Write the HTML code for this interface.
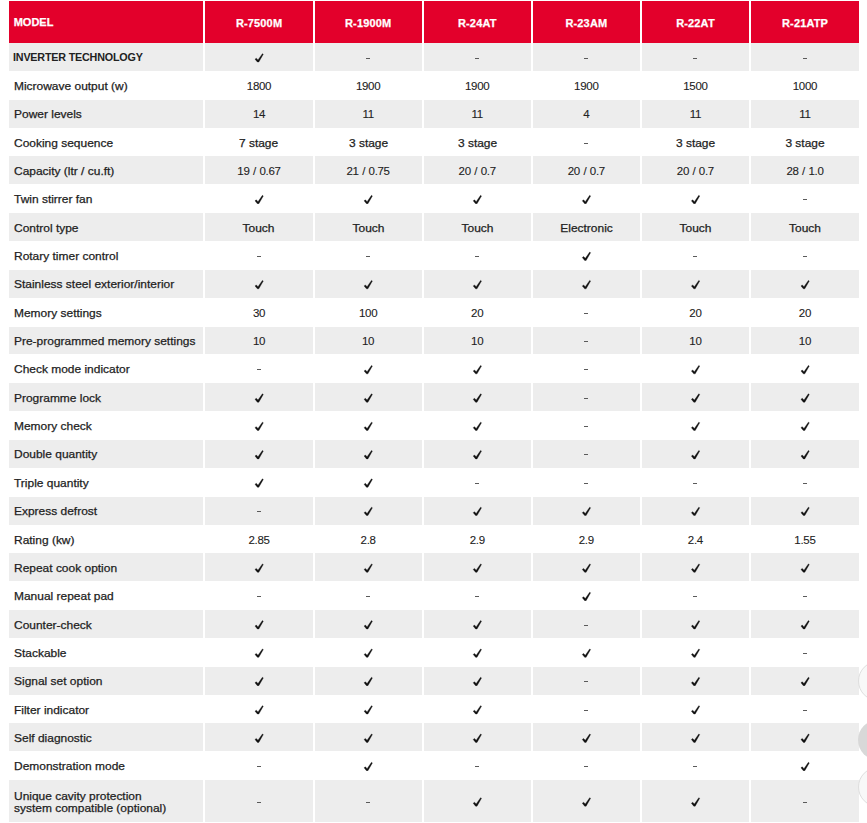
<!DOCTYPE html><html><head><meta charset="utf-8"><style>
html,body{margin:0;padding:0;background:#fff;width:867px;height:823px;overflow:hidden;position:relative}
.c{position:absolute;font-family:"Liberation Sans",sans-serif;color:#222;font-size:12px}
.h{background:#e3002b;color:#fff;font-weight:bold;font-size:11px}
.g{background:#ededed}
.t{position:absolute;white-space:nowrap;-webkit-text-stroke:0.25px currentColor}
.ck{position:absolute}
.lb{font-size:11.4px;transform:scaleX(1.05);transform-origin:0 0}
.vb{font-size:11.4px;transform:scaleX(1.05);transform-origin:50% 0}
.ds{position:absolute;height:1px;width:4px;background:#5a5a5a}
</style></head><body>

<div class="c h" style="left:9px;top:1.3px;width:194.45px;height:41.300000000000004px"><span class="t" style="left:4.7px;top:14.5px">MODEL</span></div>
<div class="c h" style="left:205.45px;top:1.3px;width:107.09999999999997px;height:41.300000000000004px;text-align:center"><span class="t" style="left:0;right:0;top:16px;letter-spacing:0.15px;text-indent:0.15px">R-7500M</span></div>
<div class="c h" style="left:314.54999999999995px;top:1.3px;width:107.10000000000002px;height:41.300000000000004px;text-align:center"><span class="t" style="left:0;right:0;top:16px;letter-spacing:0.15px;text-indent:0.15px">R-1900M</span></div>
<div class="c h" style="left:423.65px;top:1.3px;width:107.10000000000002px;height:41.300000000000004px;text-align:center"><span class="t" style="left:0;right:0;top:16px;letter-spacing:0.15px;text-indent:0.15px">R-24AT</span></div>
<div class="c h" style="left:532.75px;top:1.3px;width:107.09999999999991px;height:41.300000000000004px;text-align:center"><span class="t" style="left:0;right:0;top:16px;letter-spacing:0.15px;text-indent:0.15px">R-23AM</span></div>
<div class="c h" style="left:641.8499999999999px;top:1.3px;width:107.10000000000014px;height:41.300000000000004px;text-align:center"><span class="t" style="left:0;right:0;top:16px;letter-spacing:0.15px;text-indent:0.15px">R-22AT</span></div>
<div class="c h" style="left:750.95px;top:1.3px;width:108.04999999999995px;height:41.300000000000004px;text-align:center"><span class="t" style="left:0;right:0;top:16px;letter-spacing:0.15px;text-indent:0.15px">R-21ATP</span></div>
<div class="c g" style="left:9.00px;top:43.08px;width:194.45px;height:27.90px"><span class="t" style="left:3.7px;top:8.5px;font-weight:bold;letter-spacing:-0.2px;font-size:11.5px;top:8px;transform:scaleX(0.935);transform-origin:0 0;-webkit-text-stroke:0;">INVERTER TECHNOLOGY</span></div>
<div class="c g" style="left:205.45px;top:43.08px;width:107.10px;height:27.90px"></div>
<div class="c g" style="left:314.55px;top:43.08px;width:107.10px;height:27.90px"></div>
<div class="c g" style="left:423.65px;top:43.08px;width:107.10px;height:27.90px"></div>
<div class="c g" style="left:532.75px;top:43.08px;width:107.10px;height:27.90px"></div>
<div class="c g" style="left:641.85px;top:43.08px;width:107.10px;height:27.90px"></div>
<div class="c g" style="left:750.95px;top:43.08px;width:108.05px;height:27.90px"></div>
<div class="c" style="left:9.00px;top:71.43px;width:194.45px;height:27.90px"><span class="t lb" style="left:4.5px;top:8.5px;">Microwave output (w)</span></div>
<div class="c" style="left:205.45px;top:71.43px;width:107.10px;height:27.90px"><span class="t" style="left:0;right:0;text-align:center;top:8.5px;font-size:11.5px;letter-spacing:-0.3px;word-spacing:0.6px;-webkit-text-stroke:0.1px currentColor;">1800</span></div>
<div class="c" style="left:314.55px;top:71.43px;width:107.10px;height:27.90px"><span class="t" style="left:0;right:0;text-align:center;top:8.5px;font-size:11.5px;letter-spacing:-0.3px;word-spacing:0.6px;-webkit-text-stroke:0.1px currentColor;">1900</span></div>
<div class="c" style="left:423.65px;top:71.43px;width:107.10px;height:27.90px"><span class="t" style="left:0;right:0;text-align:center;top:8.5px;font-size:11.5px;letter-spacing:-0.3px;word-spacing:0.6px;-webkit-text-stroke:0.1px currentColor;">1900</span></div>
<div class="c" style="left:532.75px;top:71.43px;width:107.10px;height:27.90px"><span class="t" style="left:0;right:0;text-align:center;top:8.5px;font-size:11.5px;letter-spacing:-0.3px;word-spacing:0.6px;-webkit-text-stroke:0.1px currentColor;">1900</span></div>
<div class="c" style="left:641.85px;top:71.43px;width:107.10px;height:27.90px"><span class="t" style="left:0;right:0;text-align:center;top:8.5px;font-size:11.5px;letter-spacing:-0.3px;word-spacing:0.6px;-webkit-text-stroke:0.1px currentColor;">1500</span></div>
<div class="c" style="left:750.95px;top:71.43px;width:108.05px;height:27.90px"><span class="t" style="left:0;right:0;text-align:center;top:8.5px;font-size:11.5px;letter-spacing:-0.3px;word-spacing:0.6px;-webkit-text-stroke:0.1px currentColor;">1000</span></div>
<div class="c g" style="left:9.00px;top:99.78px;width:194.45px;height:27.90px"><span class="t lb" style="left:4.5px;top:8.5px;">Power levels</span></div>
<div class="c g" style="left:205.45px;top:99.78px;width:107.10px;height:27.90px"><span class="t" style="left:0;right:0;text-align:center;top:8.5px;font-size:11.5px;letter-spacing:-0.3px;word-spacing:0.6px;-webkit-text-stroke:0.1px currentColor;">14</span></div>
<div class="c g" style="left:314.55px;top:99.78px;width:107.10px;height:27.90px"><span class="t" style="left:0;right:0;text-align:center;top:8.5px;font-size:11.5px;letter-spacing:-0.3px;word-spacing:0.6px;-webkit-text-stroke:0.1px currentColor;">11</span></div>
<div class="c g" style="left:423.65px;top:99.78px;width:107.10px;height:27.90px"><span class="t" style="left:0;right:0;text-align:center;top:8.5px;font-size:11.5px;letter-spacing:-0.3px;word-spacing:0.6px;-webkit-text-stroke:0.1px currentColor;">11</span></div>
<div class="c g" style="left:532.75px;top:99.78px;width:107.10px;height:27.90px"><span class="t" style="left:0;right:0;text-align:center;top:8.5px;font-size:11.5px;letter-spacing:-0.3px;word-spacing:0.6px;-webkit-text-stroke:0.1px currentColor;">4</span></div>
<div class="c g" style="left:641.85px;top:99.78px;width:107.10px;height:27.90px"><span class="t" style="left:0;right:0;text-align:center;top:8.5px;font-size:11.5px;letter-spacing:-0.3px;word-spacing:0.6px;-webkit-text-stroke:0.1px currentColor;">11</span></div>
<div class="c g" style="left:750.95px;top:99.78px;width:108.05px;height:27.90px"><span class="t" style="left:0;right:0;text-align:center;top:8.5px;font-size:11.5px;letter-spacing:-0.3px;word-spacing:0.6px;-webkit-text-stroke:0.1px currentColor;">11</span></div>
<div class="c" style="left:9.00px;top:128.12px;width:194.45px;height:27.90px"><span class="t lb" style="left:4.5px;top:8.5px;">Cooking sequence</span></div>
<div class="c" style="left:205.45px;top:128.12px;width:107.10px;height:27.90px"><span class="t vb" style="left:0;right:0;text-align:center;top:8.5px;">7 stage</span></div>
<div class="c" style="left:314.55px;top:128.12px;width:107.10px;height:27.90px"><span class="t vb" style="left:0;right:0;text-align:center;top:8.5px;">3 stage</span></div>
<div class="c" style="left:423.65px;top:128.12px;width:107.10px;height:27.90px"><span class="t vb" style="left:0;right:0;text-align:center;top:8.5px;">3 stage</span></div>
<div class="c" style="left:532.75px;top:128.12px;width:107.10px;height:27.90px"></div>
<div class="c" style="left:641.85px;top:128.12px;width:107.10px;height:27.90px"><span class="t vb" style="left:0;right:0;text-align:center;top:8.5px;">3 stage</span></div>
<div class="c" style="left:750.95px;top:128.12px;width:108.05px;height:27.90px"><span class="t vb" style="left:0;right:0;text-align:center;top:8.5px;">3 stage</span></div>
<div class="c g" style="left:9.00px;top:156.47px;width:194.45px;height:27.90px"><span class="t lb" style="left:4.5px;top:8.5px;">Capacity (ltr / cu.ft)</span></div>
<div class="c g" style="left:205.45px;top:156.47px;width:107.10px;height:27.90px"><span class="t" style="left:0;right:0;text-align:center;top:8.5px;font-size:11.5px;letter-spacing:-0.3px;word-spacing:0.6px;-webkit-text-stroke:0.1px currentColor;">19 / 0.67</span></div>
<div class="c g" style="left:314.55px;top:156.47px;width:107.10px;height:27.90px"><span class="t" style="left:0;right:0;text-align:center;top:8.5px;font-size:11.5px;letter-spacing:-0.3px;word-spacing:0.6px;-webkit-text-stroke:0.1px currentColor;">21 / 0.75</span></div>
<div class="c g" style="left:423.65px;top:156.47px;width:107.10px;height:27.90px"><span class="t" style="left:0;right:0;text-align:center;top:8.5px;font-size:11.5px;letter-spacing:-0.3px;word-spacing:0.6px;-webkit-text-stroke:0.1px currentColor;">20 / 0.7</span></div>
<div class="c g" style="left:532.75px;top:156.47px;width:107.10px;height:27.90px"><span class="t" style="left:0;right:0;text-align:center;top:8.5px;font-size:11.5px;letter-spacing:-0.3px;word-spacing:0.6px;-webkit-text-stroke:0.1px currentColor;">20 / 0.7</span></div>
<div class="c g" style="left:641.85px;top:156.47px;width:107.10px;height:27.90px"><span class="t" style="left:0;right:0;text-align:center;top:8.5px;font-size:11.5px;letter-spacing:-0.3px;word-spacing:0.6px;-webkit-text-stroke:0.1px currentColor;">20 / 0.7</span></div>
<div class="c g" style="left:750.95px;top:156.47px;width:108.05px;height:27.90px"><span class="t" style="left:0;right:0;text-align:center;top:8.5px;font-size:11.5px;letter-spacing:-0.3px;word-spacing:0.6px;-webkit-text-stroke:0.1px currentColor;">28 / 1.0</span></div>
<div class="c" style="left:9.00px;top:184.82px;width:194.45px;height:27.90px"><span class="t lb" style="left:4.5px;top:8.5px;">Twin stirrer fan</span></div>
<div class="c" style="left:205.45px;top:184.82px;width:107.10px;height:27.90px"></div>
<div class="c" style="left:314.55px;top:184.82px;width:107.10px;height:27.90px"></div>
<div class="c" style="left:423.65px;top:184.82px;width:107.10px;height:27.90px"></div>
<div class="c" style="left:532.75px;top:184.82px;width:107.10px;height:27.90px"></div>
<div class="c" style="left:641.85px;top:184.82px;width:107.10px;height:27.90px"></div>
<div class="c" style="left:750.95px;top:184.82px;width:108.05px;height:27.90px"></div>
<div class="c g" style="left:9.00px;top:213.17px;width:194.45px;height:27.90px"><span class="t lb" style="left:4.5px;top:8.5px;">Control type</span></div>
<div class="c g" style="left:205.45px;top:213.17px;width:107.10px;height:27.90px"><span class="t vb" style="left:0;right:0;text-align:center;top:8.5px;">Touch</span></div>
<div class="c g" style="left:314.55px;top:213.17px;width:107.10px;height:27.90px"><span class="t vb" style="left:0;right:0;text-align:center;top:8.5px;">Touch</span></div>
<div class="c g" style="left:423.65px;top:213.17px;width:107.10px;height:27.90px"><span class="t vb" style="left:0;right:0;text-align:center;top:8.5px;">Touch</span></div>
<div class="c g" style="left:532.75px;top:213.17px;width:107.10px;height:27.90px"><span class="t vb" style="left:0;right:0;text-align:center;top:8.5px;">Electronic</span></div>
<div class="c g" style="left:641.85px;top:213.17px;width:107.10px;height:27.90px"><span class="t vb" style="left:0;right:0;text-align:center;top:8.5px;">Touch</span></div>
<div class="c g" style="left:750.95px;top:213.17px;width:108.05px;height:27.90px"><span class="t vb" style="left:0;right:0;text-align:center;top:8.5px;">Touch</span></div>
<div class="c" style="left:9.00px;top:241.52px;width:194.45px;height:27.90px"><span class="t lb" style="left:4.5px;top:8.5px;">Rotary timer control</span></div>
<div class="c" style="left:205.45px;top:241.52px;width:107.10px;height:27.90px"></div>
<div class="c" style="left:314.55px;top:241.52px;width:107.10px;height:27.90px"></div>
<div class="c" style="left:423.65px;top:241.52px;width:107.10px;height:27.90px"></div>
<div class="c" style="left:532.75px;top:241.52px;width:107.10px;height:27.90px"></div>
<div class="c" style="left:641.85px;top:241.52px;width:107.10px;height:27.90px"></div>
<div class="c" style="left:750.95px;top:241.52px;width:108.05px;height:27.90px"></div>
<div class="c g" style="left:9.00px;top:269.86px;width:194.45px;height:27.90px"><span class="t lb" style="left:4.5px;top:8.5px;">Stainless steel exterior/interior</span></div>
<div class="c g" style="left:205.45px;top:269.86px;width:107.10px;height:27.90px"></div>
<div class="c g" style="left:314.55px;top:269.86px;width:107.10px;height:27.90px"></div>
<div class="c g" style="left:423.65px;top:269.86px;width:107.10px;height:27.90px"></div>
<div class="c g" style="left:532.75px;top:269.86px;width:107.10px;height:27.90px"></div>
<div class="c g" style="left:641.85px;top:269.86px;width:107.10px;height:27.90px"></div>
<div class="c g" style="left:750.95px;top:269.86px;width:108.05px;height:27.90px"></div>
<div class="c" style="left:9.00px;top:298.21px;width:194.45px;height:27.90px"><span class="t lb" style="left:4.5px;top:8.5px;">Memory settings</span></div>
<div class="c" style="left:205.45px;top:298.21px;width:107.10px;height:27.90px"><span class="t" style="left:0;right:0;text-align:center;top:8.5px;font-size:11.5px;letter-spacing:-0.3px;word-spacing:0.6px;-webkit-text-stroke:0.1px currentColor;">30</span></div>
<div class="c" style="left:314.55px;top:298.21px;width:107.10px;height:27.90px"><span class="t" style="left:0;right:0;text-align:center;top:8.5px;font-size:11.5px;letter-spacing:-0.3px;word-spacing:0.6px;-webkit-text-stroke:0.1px currentColor;">100</span></div>
<div class="c" style="left:423.65px;top:298.21px;width:107.10px;height:27.90px"><span class="t" style="left:0;right:0;text-align:center;top:8.5px;font-size:11.5px;letter-spacing:-0.3px;word-spacing:0.6px;-webkit-text-stroke:0.1px currentColor;">20</span></div>
<div class="c" style="left:532.75px;top:298.21px;width:107.10px;height:27.90px"></div>
<div class="c" style="left:641.85px;top:298.21px;width:107.10px;height:27.90px"><span class="t" style="left:0;right:0;text-align:center;top:8.5px;font-size:11.5px;letter-spacing:-0.3px;word-spacing:0.6px;-webkit-text-stroke:0.1px currentColor;">20</span></div>
<div class="c" style="left:750.95px;top:298.21px;width:108.05px;height:27.90px"><span class="t" style="left:0;right:0;text-align:center;top:8.5px;font-size:11.5px;letter-spacing:-0.3px;word-spacing:0.6px;-webkit-text-stroke:0.1px currentColor;">20</span></div>
<div class="c g" style="left:9.00px;top:326.56px;width:194.45px;height:27.90px"><span class="t lb" style="left:4.5px;top:8.5px;">Pre-programmed memory settings</span></div>
<div class="c g" style="left:205.45px;top:326.56px;width:107.10px;height:27.90px"><span class="t" style="left:0;right:0;text-align:center;top:8.5px;font-size:11.5px;letter-spacing:-0.3px;word-spacing:0.6px;-webkit-text-stroke:0.1px currentColor;">10</span></div>
<div class="c g" style="left:314.55px;top:326.56px;width:107.10px;height:27.90px"><span class="t" style="left:0;right:0;text-align:center;top:8.5px;font-size:11.5px;letter-spacing:-0.3px;word-spacing:0.6px;-webkit-text-stroke:0.1px currentColor;">10</span></div>
<div class="c g" style="left:423.65px;top:326.56px;width:107.10px;height:27.90px"><span class="t" style="left:0;right:0;text-align:center;top:8.5px;font-size:11.5px;letter-spacing:-0.3px;word-spacing:0.6px;-webkit-text-stroke:0.1px currentColor;">10</span></div>
<div class="c g" style="left:532.75px;top:326.56px;width:107.10px;height:27.90px"></div>
<div class="c g" style="left:641.85px;top:326.56px;width:107.10px;height:27.90px"><span class="t" style="left:0;right:0;text-align:center;top:8.5px;font-size:11.5px;letter-spacing:-0.3px;word-spacing:0.6px;-webkit-text-stroke:0.1px currentColor;">10</span></div>
<div class="c g" style="left:750.95px;top:326.56px;width:108.05px;height:27.90px"><span class="t" style="left:0;right:0;text-align:center;top:8.5px;font-size:11.5px;letter-spacing:-0.3px;word-spacing:0.6px;-webkit-text-stroke:0.1px currentColor;">10</span></div>
<div class="c" style="left:9.00px;top:354.91px;width:194.45px;height:27.90px"><span class="t lb" style="left:4.5px;top:8.5px;">Check mode indicator</span></div>
<div class="c" style="left:205.45px;top:354.91px;width:107.10px;height:27.90px"></div>
<div class="c" style="left:314.55px;top:354.91px;width:107.10px;height:27.90px"></div>
<div class="c" style="left:423.65px;top:354.91px;width:107.10px;height:27.90px"></div>
<div class="c" style="left:532.75px;top:354.91px;width:107.10px;height:27.90px"></div>
<div class="c" style="left:641.85px;top:354.91px;width:107.10px;height:27.90px"></div>
<div class="c" style="left:750.95px;top:354.91px;width:108.05px;height:27.90px"></div>
<div class="c g" style="left:9.00px;top:383.26px;width:194.45px;height:27.90px"><span class="t lb" style="left:4.5px;top:8.5px;">Programme lock</span></div>
<div class="c g" style="left:205.45px;top:383.26px;width:107.10px;height:27.90px"></div>
<div class="c g" style="left:314.55px;top:383.26px;width:107.10px;height:27.90px"></div>
<div class="c g" style="left:423.65px;top:383.26px;width:107.10px;height:27.90px"></div>
<div class="c g" style="left:532.75px;top:383.26px;width:107.10px;height:27.90px"></div>
<div class="c g" style="left:641.85px;top:383.26px;width:107.10px;height:27.90px"></div>
<div class="c g" style="left:750.95px;top:383.26px;width:108.05px;height:27.90px"></div>
<div class="c" style="left:9.00px;top:411.60px;width:194.45px;height:27.90px"><span class="t lb" style="left:4.5px;top:8.5px;">Memory check</span></div>
<div class="c" style="left:205.45px;top:411.60px;width:107.10px;height:27.90px"></div>
<div class="c" style="left:314.55px;top:411.60px;width:107.10px;height:27.90px"></div>
<div class="c" style="left:423.65px;top:411.60px;width:107.10px;height:27.90px"></div>
<div class="c" style="left:532.75px;top:411.60px;width:107.10px;height:27.90px"></div>
<div class="c" style="left:641.85px;top:411.60px;width:107.10px;height:27.90px"></div>
<div class="c" style="left:750.95px;top:411.60px;width:108.05px;height:27.90px"></div>
<div class="c g" style="left:9.00px;top:439.95px;width:194.45px;height:27.90px"><span class="t lb" style="left:4.5px;top:8.5px;">Double quantity</span></div>
<div class="c g" style="left:205.45px;top:439.95px;width:107.10px;height:27.90px"></div>
<div class="c g" style="left:314.55px;top:439.95px;width:107.10px;height:27.90px"></div>
<div class="c g" style="left:423.65px;top:439.95px;width:107.10px;height:27.90px"></div>
<div class="c g" style="left:532.75px;top:439.95px;width:107.10px;height:27.90px"></div>
<div class="c g" style="left:641.85px;top:439.95px;width:107.10px;height:27.90px"></div>
<div class="c g" style="left:750.95px;top:439.95px;width:108.05px;height:27.90px"></div>
<div class="c" style="left:9.00px;top:468.30px;width:194.45px;height:27.90px"><span class="t lb" style="left:4.5px;top:8.5px;">Triple quantity</span></div>
<div class="c" style="left:205.45px;top:468.30px;width:107.10px;height:27.90px"></div>
<div class="c" style="left:314.55px;top:468.30px;width:107.10px;height:27.90px"></div>
<div class="c" style="left:423.65px;top:468.30px;width:107.10px;height:27.90px"></div>
<div class="c" style="left:532.75px;top:468.30px;width:107.10px;height:27.90px"></div>
<div class="c" style="left:641.85px;top:468.30px;width:107.10px;height:27.90px"></div>
<div class="c" style="left:750.95px;top:468.30px;width:108.05px;height:27.90px"></div>
<div class="c g" style="left:9.00px;top:496.65px;width:194.45px;height:27.90px"><span class="t lb" style="left:4.5px;top:8.5px;">Express defrost</span></div>
<div class="c g" style="left:205.45px;top:496.65px;width:107.10px;height:27.90px"></div>
<div class="c g" style="left:314.55px;top:496.65px;width:107.10px;height:27.90px"></div>
<div class="c g" style="left:423.65px;top:496.65px;width:107.10px;height:27.90px"></div>
<div class="c g" style="left:532.75px;top:496.65px;width:107.10px;height:27.90px"></div>
<div class="c g" style="left:641.85px;top:496.65px;width:107.10px;height:27.90px"></div>
<div class="c g" style="left:750.95px;top:496.65px;width:108.05px;height:27.90px"></div>
<div class="c" style="left:9.00px;top:525.00px;width:194.45px;height:27.90px"><span class="t lb" style="left:4.5px;top:8.5px;">Rating (kw)</span></div>
<div class="c" style="left:205.45px;top:525.00px;width:107.10px;height:27.90px"><span class="t" style="left:0;right:0;text-align:center;top:8.5px;font-size:11.5px;letter-spacing:-0.3px;word-spacing:0.6px;-webkit-text-stroke:0.1px currentColor;">2.85</span></div>
<div class="c" style="left:314.55px;top:525.00px;width:107.10px;height:27.90px"><span class="t" style="left:0;right:0;text-align:center;top:8.5px;font-size:11.5px;letter-spacing:-0.3px;word-spacing:0.6px;-webkit-text-stroke:0.1px currentColor;">2.8</span></div>
<div class="c" style="left:423.65px;top:525.00px;width:107.10px;height:27.90px"><span class="t" style="left:0;right:0;text-align:center;top:8.5px;font-size:11.5px;letter-spacing:-0.3px;word-spacing:0.6px;-webkit-text-stroke:0.1px currentColor;">2.9</span></div>
<div class="c" style="left:532.75px;top:525.00px;width:107.10px;height:27.90px"><span class="t" style="left:0;right:0;text-align:center;top:8.5px;font-size:11.5px;letter-spacing:-0.3px;word-spacing:0.6px;-webkit-text-stroke:0.1px currentColor;">2.9</span></div>
<div class="c" style="left:641.85px;top:525.00px;width:107.10px;height:27.90px"><span class="t" style="left:0;right:0;text-align:center;top:8.5px;font-size:11.5px;letter-spacing:-0.3px;word-spacing:0.6px;-webkit-text-stroke:0.1px currentColor;">2.4</span></div>
<div class="c" style="left:750.95px;top:525.00px;width:108.05px;height:27.90px"><span class="t" style="left:0;right:0;text-align:center;top:8.5px;font-size:11.5px;letter-spacing:-0.3px;word-spacing:0.6px;-webkit-text-stroke:0.1px currentColor;">1.55</span></div>
<div class="c g" style="left:9.00px;top:553.34px;width:194.45px;height:27.90px"><span class="t lb" style="left:4.5px;top:8.5px;">Repeat cook option</span></div>
<div class="c g" style="left:205.45px;top:553.34px;width:107.10px;height:27.90px"></div>
<div class="c g" style="left:314.55px;top:553.34px;width:107.10px;height:27.90px"></div>
<div class="c g" style="left:423.65px;top:553.34px;width:107.10px;height:27.90px"></div>
<div class="c g" style="left:532.75px;top:553.34px;width:107.10px;height:27.90px"></div>
<div class="c g" style="left:641.85px;top:553.34px;width:107.10px;height:27.90px"></div>
<div class="c g" style="left:750.95px;top:553.34px;width:108.05px;height:27.90px"></div>
<div class="c" style="left:9.00px;top:581.69px;width:194.45px;height:27.90px"><span class="t lb" style="left:4.5px;top:8.5px;">Manual repeat pad</span></div>
<div class="c" style="left:205.45px;top:581.69px;width:107.10px;height:27.90px"></div>
<div class="c" style="left:314.55px;top:581.69px;width:107.10px;height:27.90px"></div>
<div class="c" style="left:423.65px;top:581.69px;width:107.10px;height:27.90px"></div>
<div class="c" style="left:532.75px;top:581.69px;width:107.10px;height:27.90px"></div>
<div class="c" style="left:641.85px;top:581.69px;width:107.10px;height:27.90px"></div>
<div class="c" style="left:750.95px;top:581.69px;width:108.05px;height:27.90px"></div>
<div class="c g" style="left:9.00px;top:610.04px;width:194.45px;height:27.90px"><span class="t lb" style="left:4.5px;top:8.5px;">Counter-check</span></div>
<div class="c g" style="left:205.45px;top:610.04px;width:107.10px;height:27.90px"></div>
<div class="c g" style="left:314.55px;top:610.04px;width:107.10px;height:27.90px"></div>
<div class="c g" style="left:423.65px;top:610.04px;width:107.10px;height:27.90px"></div>
<div class="c g" style="left:532.75px;top:610.04px;width:107.10px;height:27.90px"></div>
<div class="c g" style="left:641.85px;top:610.04px;width:107.10px;height:27.90px"></div>
<div class="c g" style="left:750.95px;top:610.04px;width:108.05px;height:27.90px"></div>
<div class="c" style="left:9.00px;top:638.39px;width:194.45px;height:27.90px"><span class="t lb" style="left:4.5px;top:8.5px;">Stackable</span></div>
<div class="c" style="left:205.45px;top:638.39px;width:107.10px;height:27.90px"></div>
<div class="c" style="left:314.55px;top:638.39px;width:107.10px;height:27.90px"></div>
<div class="c" style="left:423.65px;top:638.39px;width:107.10px;height:27.90px"></div>
<div class="c" style="left:532.75px;top:638.39px;width:107.10px;height:27.90px"></div>
<div class="c" style="left:641.85px;top:638.39px;width:107.10px;height:27.90px"></div>
<div class="c" style="left:750.95px;top:638.39px;width:108.05px;height:27.90px"></div>
<div class="c g" style="left:9.00px;top:666.74px;width:194.45px;height:27.90px"><span class="t lb" style="left:4.5px;top:8.5px;">Signal set option</span></div>
<div class="c g" style="left:205.45px;top:666.74px;width:107.10px;height:27.90px"></div>
<div class="c g" style="left:314.55px;top:666.74px;width:107.10px;height:27.90px"></div>
<div class="c g" style="left:423.65px;top:666.74px;width:107.10px;height:27.90px"></div>
<div class="c g" style="left:532.75px;top:666.74px;width:107.10px;height:27.90px"></div>
<div class="c g" style="left:641.85px;top:666.74px;width:107.10px;height:27.90px"></div>
<div class="c g" style="left:750.95px;top:666.74px;width:108.05px;height:27.90px"></div>
<div class="c" style="left:9.00px;top:695.08px;width:194.45px;height:27.90px"><span class="t lb" style="left:4.5px;top:8.5px;">Filter indicator</span></div>
<div class="c" style="left:205.45px;top:695.08px;width:107.10px;height:27.90px"></div>
<div class="c" style="left:314.55px;top:695.08px;width:107.10px;height:27.90px"></div>
<div class="c" style="left:423.65px;top:695.08px;width:107.10px;height:27.90px"></div>
<div class="c" style="left:532.75px;top:695.08px;width:107.10px;height:27.90px"></div>
<div class="c" style="left:641.85px;top:695.08px;width:107.10px;height:27.90px"></div>
<div class="c" style="left:750.95px;top:695.08px;width:108.05px;height:27.90px"></div>
<div class="c g" style="left:9.00px;top:723.43px;width:194.45px;height:27.90px"><span class="t lb" style="left:4.5px;top:8.5px;">Self diagnostic</span></div>
<div class="c g" style="left:205.45px;top:723.43px;width:107.10px;height:27.90px"></div>
<div class="c g" style="left:314.55px;top:723.43px;width:107.10px;height:27.90px"></div>
<div class="c g" style="left:423.65px;top:723.43px;width:107.10px;height:27.90px"></div>
<div class="c g" style="left:532.75px;top:723.43px;width:107.10px;height:27.90px"></div>
<div class="c g" style="left:641.85px;top:723.43px;width:107.10px;height:27.90px"></div>
<div class="c g" style="left:750.95px;top:723.43px;width:108.05px;height:27.90px"></div>
<div class="c" style="left:9.00px;top:751.78px;width:194.45px;height:27.90px"><span class="t lb" style="left:4.5px;top:8.5px;">Demonstration mode</span></div>
<div class="c" style="left:205.45px;top:751.78px;width:107.10px;height:27.90px"></div>
<div class="c" style="left:314.55px;top:751.78px;width:107.10px;height:27.90px"></div>
<div class="c" style="left:423.65px;top:751.78px;width:107.10px;height:27.90px"></div>
<div class="c" style="left:532.75px;top:751.78px;width:107.10px;height:27.90px"></div>
<div class="c" style="left:641.85px;top:751.78px;width:107.10px;height:27.90px"></div>
<div class="c" style="left:750.95px;top:751.78px;width:108.05px;height:27.90px"></div>
<div class="c g" style="left:9.00px;top:780.13px;width:194.45px;height:42.00px"><span class="t lb" style="left:4.5px;top:11.2px;line-height:11.6px">Unique cavity protection<br>system compatible (optional)</span></div>
<div class="c g" style="left:205.45px;top:780.13px;width:107.10px;height:42.00px"></div>
<div class="c g" style="left:314.55px;top:780.13px;width:107.10px;height:42.00px"></div>
<div class="c g" style="left:423.65px;top:780.13px;width:107.10px;height:42.00px"></div>
<div class="c g" style="left:532.75px;top:780.13px;width:107.10px;height:42.00px"></div>
<div class="c g" style="left:641.85px;top:780.13px;width:107.10px;height:42.00px"></div>
<div class="c g" style="left:750.95px;top:780.13px;width:108.05px;height:42.00px"></div>
<svg class="ck" style="left:253px;top:51px" width="12" height="12" viewBox="0 0 12 12"><path transform="translate(1.00 1.23)" d="M1.0 6.9 L2.3 5.9 L4.0 7.7 L8.4 1.4 L9.3 2.0 L4.8 9.8 L3.4 9.8 Z" fill="#111" stroke="#111" stroke-width="0.35" stroke-linejoin="round"/></svg>
<div class="ds" style="left:366px;top:58px"></div>
<div class="ds" style="left:475px;top:58px"></div>
<div class="ds" style="left:584px;top:58px"></div>
<div class="ds" style="left:693px;top:58px"></div>
<div class="ds" style="left:803px;top:58px"></div>
<div class="ds" style="left:584px;top:143px"></div>
<svg class="ck" style="left:253px;top:192px" width="12" height="12" viewBox="0 0 12 12"><path transform="translate(1.00 1.97)" d="M1.0 6.9 L2.3 5.9 L4.0 7.7 L8.4 1.4 L9.3 2.0 L4.8 9.8 L3.4 9.8 Z" fill="#111" stroke="#111" stroke-width="0.35" stroke-linejoin="round"/></svg>
<svg class="ck" style="left:362px;top:192px" width="12" height="12" viewBox="0 0 12 12"><path transform="translate(1.10 1.97)" d="M1.0 6.9 L2.3 5.9 L4.0 7.7 L8.4 1.4 L9.3 2.0 L4.8 9.8 L3.4 9.8 Z" fill="#111" stroke="#111" stroke-width="0.35" stroke-linejoin="round"/></svg>
<svg class="ck" style="left:471px;top:192px" width="12" height="12" viewBox="0 0 12 12"><path transform="translate(1.20 1.97)" d="M1.0 6.9 L2.3 5.9 L4.0 7.7 L8.4 1.4 L9.3 2.0 L4.8 9.8 L3.4 9.8 Z" fill="#111" stroke="#111" stroke-width="0.35" stroke-linejoin="round"/></svg>
<svg class="ck" style="left:580px;top:192px" width="12" height="12" viewBox="0 0 12 12"><path transform="translate(1.30 1.97)" d="M1.0 6.9 L2.3 5.9 L4.0 7.7 L8.4 1.4 L9.3 2.0 L4.8 9.8 L3.4 9.8 Z" fill="#111" stroke="#111" stroke-width="0.35" stroke-linejoin="round"/></svg>
<svg class="ck" style="left:689px;top:192px" width="12" height="12" viewBox="0 0 12 12"><path transform="translate(1.40 1.97)" d="M1.0 6.9 L2.3 5.9 L4.0 7.7 L8.4 1.4 L9.3 2.0 L4.8 9.8 L3.4 9.8 Z" fill="#111" stroke="#111" stroke-width="0.35" stroke-linejoin="round"/></svg>
<div class="ds" style="left:803px;top:199px"></div>
<div class="ds" style="left:257px;top:256px"></div>
<div class="ds" style="left:366px;top:256px"></div>
<div class="ds" style="left:475px;top:256px"></div>
<svg class="ck" style="left:580px;top:249px" width="12" height="12" viewBox="0 0 12 12"><path transform="translate(1.30 1.67)" d="M1.0 6.9 L2.3 5.9 L4.0 7.7 L8.4 1.4 L9.3 2.0 L4.8 9.8 L3.4 9.8 Z" fill="#111" stroke="#111" stroke-width="0.35" stroke-linejoin="round"/></svg>
<div class="ds" style="left:693px;top:256px"></div>
<div class="ds" style="left:803px;top:256px"></div>
<svg class="ck" style="left:253px;top:278px" width="12" height="12" viewBox="0 0 12 12"><path transform="translate(1.00 1.01)" d="M1.0 6.9 L2.3 5.9 L4.0 7.7 L8.4 1.4 L9.3 2.0 L4.8 9.8 L3.4 9.8 Z" fill="#111" stroke="#111" stroke-width="0.35" stroke-linejoin="round"/></svg>
<svg class="ck" style="left:362px;top:278px" width="12" height="12" viewBox="0 0 12 12"><path transform="translate(1.10 1.01)" d="M1.0 6.9 L2.3 5.9 L4.0 7.7 L8.4 1.4 L9.3 2.0 L4.8 9.8 L3.4 9.8 Z" fill="#111" stroke="#111" stroke-width="0.35" stroke-linejoin="round"/></svg>
<svg class="ck" style="left:471px;top:278px" width="12" height="12" viewBox="0 0 12 12"><path transform="translate(1.20 1.01)" d="M1.0 6.9 L2.3 5.9 L4.0 7.7 L8.4 1.4 L9.3 2.0 L4.8 9.8 L3.4 9.8 Z" fill="#111" stroke="#111" stroke-width="0.35" stroke-linejoin="round"/></svg>
<svg class="ck" style="left:580px;top:278px" width="12" height="12" viewBox="0 0 12 12"><path transform="translate(1.30 1.01)" d="M1.0 6.9 L2.3 5.9 L4.0 7.7 L8.4 1.4 L9.3 2.0 L4.8 9.8 L3.4 9.8 Z" fill="#111" stroke="#111" stroke-width="0.35" stroke-linejoin="round"/></svg>
<svg class="ck" style="left:689px;top:278px" width="12" height="12" viewBox="0 0 12 12"><path transform="translate(1.40 1.01)" d="M1.0 6.9 L2.3 5.9 L4.0 7.7 L8.4 1.4 L9.3 2.0 L4.8 9.8 L3.4 9.8 Z" fill="#111" stroke="#111" stroke-width="0.35" stroke-linejoin="round"/></svg>
<svg class="ck" style="left:798px;top:278px" width="12" height="12" viewBox="0 0 12 12"><path transform="translate(1.98 1.01)" d="M1.0 6.9 L2.3 5.9 L4.0 7.7 L8.4 1.4 L9.3 2.0 L4.8 9.8 L3.4 9.8 Z" fill="#111" stroke="#111" stroke-width="0.35" stroke-linejoin="round"/></svg>
<div class="ds" style="left:584px;top:313px"></div>
<div class="ds" style="left:584px;top:341px"></div>
<div class="ds" style="left:257px;top:369px"></div>
<svg class="ck" style="left:362px;top:363px" width="12" height="12" viewBox="0 0 12 12"><path transform="translate(1.10 1.06)" d="M1.0 6.9 L2.3 5.9 L4.0 7.7 L8.4 1.4 L9.3 2.0 L4.8 9.8 L3.4 9.8 Z" fill="#111" stroke="#111" stroke-width="0.35" stroke-linejoin="round"/></svg>
<svg class="ck" style="left:471px;top:363px" width="12" height="12" viewBox="0 0 12 12"><path transform="translate(1.20 1.06)" d="M1.0 6.9 L2.3 5.9 L4.0 7.7 L8.4 1.4 L9.3 2.0 L4.8 9.8 L3.4 9.8 Z" fill="#111" stroke="#111" stroke-width="0.35" stroke-linejoin="round"/></svg>
<div class="ds" style="left:584px;top:369px"></div>
<svg class="ck" style="left:689px;top:363px" width="12" height="12" viewBox="0 0 12 12"><path transform="translate(1.40 1.06)" d="M1.0 6.9 L2.3 5.9 L4.0 7.7 L8.4 1.4 L9.3 2.0 L4.8 9.8 L3.4 9.8 Z" fill="#111" stroke="#111" stroke-width="0.35" stroke-linejoin="round"/></svg>
<svg class="ck" style="left:798px;top:363px" width="12" height="12" viewBox="0 0 12 12"><path transform="translate(1.98 1.06)" d="M1.0 6.9 L2.3 5.9 L4.0 7.7 L8.4 1.4 L9.3 2.0 L4.8 9.8 L3.4 9.8 Z" fill="#111" stroke="#111" stroke-width="0.35" stroke-linejoin="round"/></svg>
<svg class="ck" style="left:253px;top:391px" width="12" height="12" viewBox="0 0 12 12"><path transform="translate(1.00 1.41)" d="M1.0 6.9 L2.3 5.9 L4.0 7.7 L8.4 1.4 L9.3 2.0 L4.8 9.8 L3.4 9.8 Z" fill="#111" stroke="#111" stroke-width="0.35" stroke-linejoin="round"/></svg>
<svg class="ck" style="left:362px;top:391px" width="12" height="12" viewBox="0 0 12 12"><path transform="translate(1.10 1.41)" d="M1.0 6.9 L2.3 5.9 L4.0 7.7 L8.4 1.4 L9.3 2.0 L4.8 9.8 L3.4 9.8 Z" fill="#111" stroke="#111" stroke-width="0.35" stroke-linejoin="round"/></svg>
<svg class="ck" style="left:471px;top:391px" width="12" height="12" viewBox="0 0 12 12"><path transform="translate(1.20 1.41)" d="M1.0 6.9 L2.3 5.9 L4.0 7.7 L8.4 1.4 L9.3 2.0 L4.8 9.8 L3.4 9.8 Z" fill="#111" stroke="#111" stroke-width="0.35" stroke-linejoin="round"/></svg>
<div class="ds" style="left:584px;top:398px"></div>
<svg class="ck" style="left:689px;top:391px" width="12" height="12" viewBox="0 0 12 12"><path transform="translate(1.40 1.41)" d="M1.0 6.9 L2.3 5.9 L4.0 7.7 L8.4 1.4 L9.3 2.0 L4.8 9.8 L3.4 9.8 Z" fill="#111" stroke="#111" stroke-width="0.35" stroke-linejoin="round"/></svg>
<svg class="ck" style="left:798px;top:391px" width="12" height="12" viewBox="0 0 12 12"><path transform="translate(1.98 1.41)" d="M1.0 6.9 L2.3 5.9 L4.0 7.7 L8.4 1.4 L9.3 2.0 L4.8 9.8 L3.4 9.8 Z" fill="#111" stroke="#111" stroke-width="0.35" stroke-linejoin="round"/></svg>
<svg class="ck" style="left:253px;top:419px" width="12" height="12" viewBox="0 0 12 12"><path transform="translate(1.00 1.75)" d="M1.0 6.9 L2.3 5.9 L4.0 7.7 L8.4 1.4 L9.3 2.0 L4.8 9.8 L3.4 9.8 Z" fill="#111" stroke="#111" stroke-width="0.35" stroke-linejoin="round"/></svg>
<svg class="ck" style="left:362px;top:419px" width="12" height="12" viewBox="0 0 12 12"><path transform="translate(1.10 1.75)" d="M1.0 6.9 L2.3 5.9 L4.0 7.7 L8.4 1.4 L9.3 2.0 L4.8 9.8 L3.4 9.8 Z" fill="#111" stroke="#111" stroke-width="0.35" stroke-linejoin="round"/></svg>
<svg class="ck" style="left:471px;top:419px" width="12" height="12" viewBox="0 0 12 12"><path transform="translate(1.20 1.75)" d="M1.0 6.9 L2.3 5.9 L4.0 7.7 L8.4 1.4 L9.3 2.0 L4.8 9.8 L3.4 9.8 Z" fill="#111" stroke="#111" stroke-width="0.35" stroke-linejoin="round"/></svg>
<div class="ds" style="left:584px;top:426px"></div>
<svg class="ck" style="left:689px;top:419px" width="12" height="12" viewBox="0 0 12 12"><path transform="translate(1.40 1.75)" d="M1.0 6.9 L2.3 5.9 L4.0 7.7 L8.4 1.4 L9.3 2.0 L4.8 9.8 L3.4 9.8 Z" fill="#111" stroke="#111" stroke-width="0.35" stroke-linejoin="round"/></svg>
<svg class="ck" style="left:798px;top:419px" width="12" height="12" viewBox="0 0 12 12"><path transform="translate(1.98 1.75)" d="M1.0 6.9 L2.3 5.9 L4.0 7.7 L8.4 1.4 L9.3 2.0 L4.8 9.8 L3.4 9.8 Z" fill="#111" stroke="#111" stroke-width="0.35" stroke-linejoin="round"/></svg>
<svg class="ck" style="left:253px;top:448px" width="12" height="12" viewBox="0 0 12 12"><path transform="translate(1.00 1.10)" d="M1.0 6.9 L2.3 5.9 L4.0 7.7 L8.4 1.4 L9.3 2.0 L4.8 9.8 L3.4 9.8 Z" fill="#111" stroke="#111" stroke-width="0.35" stroke-linejoin="round"/></svg>
<svg class="ck" style="left:362px;top:448px" width="12" height="12" viewBox="0 0 12 12"><path transform="translate(1.10 1.10)" d="M1.0 6.9 L2.3 5.9 L4.0 7.7 L8.4 1.4 L9.3 2.0 L4.8 9.8 L3.4 9.8 Z" fill="#111" stroke="#111" stroke-width="0.35" stroke-linejoin="round"/></svg>
<svg class="ck" style="left:471px;top:448px" width="12" height="12" viewBox="0 0 12 12"><path transform="translate(1.20 1.10)" d="M1.0 6.9 L2.3 5.9 L4.0 7.7 L8.4 1.4 L9.3 2.0 L4.8 9.8 L3.4 9.8 Z" fill="#111" stroke="#111" stroke-width="0.35" stroke-linejoin="round"/></svg>
<div class="ds" style="left:584px;top:454px"></div>
<svg class="ck" style="left:689px;top:448px" width="12" height="12" viewBox="0 0 12 12"><path transform="translate(1.40 1.10)" d="M1.0 6.9 L2.3 5.9 L4.0 7.7 L8.4 1.4 L9.3 2.0 L4.8 9.8 L3.4 9.8 Z" fill="#111" stroke="#111" stroke-width="0.35" stroke-linejoin="round"/></svg>
<svg class="ck" style="left:798px;top:448px" width="12" height="12" viewBox="0 0 12 12"><path transform="translate(1.98 1.10)" d="M1.0 6.9 L2.3 5.9 L4.0 7.7 L8.4 1.4 L9.3 2.0 L4.8 9.8 L3.4 9.8 Z" fill="#111" stroke="#111" stroke-width="0.35" stroke-linejoin="round"/></svg>
<svg class="ck" style="left:253px;top:476px" width="12" height="12" viewBox="0 0 12 12"><path transform="translate(1.00 1.45)" d="M1.0 6.9 L2.3 5.9 L4.0 7.7 L8.4 1.4 L9.3 2.0 L4.8 9.8 L3.4 9.8 Z" fill="#111" stroke="#111" stroke-width="0.35" stroke-linejoin="round"/></svg>
<svg class="ck" style="left:362px;top:476px" width="12" height="12" viewBox="0 0 12 12"><path transform="translate(1.10 1.45)" d="M1.0 6.9 L2.3 5.9 L4.0 7.7 L8.4 1.4 L9.3 2.0 L4.8 9.8 L3.4 9.8 Z" fill="#111" stroke="#111" stroke-width="0.35" stroke-linejoin="round"/></svg>
<div class="ds" style="left:475px;top:483px"></div>
<div class="ds" style="left:584px;top:483px"></div>
<div class="ds" style="left:693px;top:483px"></div>
<div class="ds" style="left:803px;top:483px"></div>
<div class="ds" style="left:257px;top:511px"></div>
<svg class="ck" style="left:362px;top:504px" width="12" height="12" viewBox="0 0 12 12"><path transform="translate(1.10 1.80)" d="M1.0 6.9 L2.3 5.9 L4.0 7.7 L8.4 1.4 L9.3 2.0 L4.8 9.8 L3.4 9.8 Z" fill="#111" stroke="#111" stroke-width="0.35" stroke-linejoin="round"/></svg>
<svg class="ck" style="left:471px;top:504px" width="12" height="12" viewBox="0 0 12 12"><path transform="translate(1.20 1.80)" d="M1.0 6.9 L2.3 5.9 L4.0 7.7 L8.4 1.4 L9.3 2.0 L4.8 9.8 L3.4 9.8 Z" fill="#111" stroke="#111" stroke-width="0.35" stroke-linejoin="round"/></svg>
<svg class="ck" style="left:580px;top:504px" width="12" height="12" viewBox="0 0 12 12"><path transform="translate(1.30 1.80)" d="M1.0 6.9 L2.3 5.9 L4.0 7.7 L8.4 1.4 L9.3 2.0 L4.8 9.8 L3.4 9.8 Z" fill="#111" stroke="#111" stroke-width="0.35" stroke-linejoin="round"/></svg>
<svg class="ck" style="left:689px;top:504px" width="12" height="12" viewBox="0 0 12 12"><path transform="translate(1.40 1.80)" d="M1.0 6.9 L2.3 5.9 L4.0 7.7 L8.4 1.4 L9.3 2.0 L4.8 9.8 L3.4 9.8 Z" fill="#111" stroke="#111" stroke-width="0.35" stroke-linejoin="round"/></svg>
<svg class="ck" style="left:798px;top:504px" width="12" height="12" viewBox="0 0 12 12"><path transform="translate(1.98 1.80)" d="M1.0 6.9 L2.3 5.9 L4.0 7.7 L8.4 1.4 L9.3 2.0 L4.8 9.8 L3.4 9.8 Z" fill="#111" stroke="#111" stroke-width="0.35" stroke-linejoin="round"/></svg>
<svg class="ck" style="left:253px;top:561px" width="12" height="12" viewBox="0 0 12 12"><path transform="translate(1.00 1.49)" d="M1.0 6.9 L2.3 5.9 L4.0 7.7 L8.4 1.4 L9.3 2.0 L4.8 9.8 L3.4 9.8 Z" fill="#111" stroke="#111" stroke-width="0.35" stroke-linejoin="round"/></svg>
<svg class="ck" style="left:362px;top:561px" width="12" height="12" viewBox="0 0 12 12"><path transform="translate(1.10 1.49)" d="M1.0 6.9 L2.3 5.9 L4.0 7.7 L8.4 1.4 L9.3 2.0 L4.8 9.8 L3.4 9.8 Z" fill="#111" stroke="#111" stroke-width="0.35" stroke-linejoin="round"/></svg>
<svg class="ck" style="left:471px;top:561px" width="12" height="12" viewBox="0 0 12 12"><path transform="translate(1.20 1.49)" d="M1.0 6.9 L2.3 5.9 L4.0 7.7 L8.4 1.4 L9.3 2.0 L4.8 9.8 L3.4 9.8 Z" fill="#111" stroke="#111" stroke-width="0.35" stroke-linejoin="round"/></svg>
<svg class="ck" style="left:580px;top:561px" width="12" height="12" viewBox="0 0 12 12"><path transform="translate(1.30 1.49)" d="M1.0 6.9 L2.3 5.9 L4.0 7.7 L8.4 1.4 L9.3 2.0 L4.8 9.8 L3.4 9.8 Z" fill="#111" stroke="#111" stroke-width="0.35" stroke-linejoin="round"/></svg>
<svg class="ck" style="left:689px;top:561px" width="12" height="12" viewBox="0 0 12 12"><path transform="translate(1.40 1.49)" d="M1.0 6.9 L2.3 5.9 L4.0 7.7 L8.4 1.4 L9.3 2.0 L4.8 9.8 L3.4 9.8 Z" fill="#111" stroke="#111" stroke-width="0.35" stroke-linejoin="round"/></svg>
<svg class="ck" style="left:798px;top:561px" width="12" height="12" viewBox="0 0 12 12"><path transform="translate(1.98 1.49)" d="M1.0 6.9 L2.3 5.9 L4.0 7.7 L8.4 1.4 L9.3 2.0 L4.8 9.8 L3.4 9.8 Z" fill="#111" stroke="#111" stroke-width="0.35" stroke-linejoin="round"/></svg>
<div class="ds" style="left:257px;top:596px"></div>
<div class="ds" style="left:366px;top:596px"></div>
<div class="ds" style="left:475px;top:596px"></div>
<svg class="ck" style="left:580px;top:589px" width="12" height="12" viewBox="0 0 12 12"><path transform="translate(1.30 1.84)" d="M1.0 6.9 L2.3 5.9 L4.0 7.7 L8.4 1.4 L9.3 2.0 L4.8 9.8 L3.4 9.8 Z" fill="#111" stroke="#111" stroke-width="0.35" stroke-linejoin="round"/></svg>
<div class="ds" style="left:693px;top:596px"></div>
<div class="ds" style="left:803px;top:596px"></div>
<svg class="ck" style="left:253px;top:618px" width="12" height="12" viewBox="0 0 12 12"><path transform="translate(1.00 1.19)" d="M1.0 6.9 L2.3 5.9 L4.0 7.7 L8.4 1.4 L9.3 2.0 L4.8 9.8 L3.4 9.8 Z" fill="#111" stroke="#111" stroke-width="0.35" stroke-linejoin="round"/></svg>
<svg class="ck" style="left:362px;top:618px" width="12" height="12" viewBox="0 0 12 12"><path transform="translate(1.10 1.19)" d="M1.0 6.9 L2.3 5.9 L4.0 7.7 L8.4 1.4 L9.3 2.0 L4.8 9.8 L3.4 9.8 Z" fill="#111" stroke="#111" stroke-width="0.35" stroke-linejoin="round"/></svg>
<svg class="ck" style="left:471px;top:618px" width="12" height="12" viewBox="0 0 12 12"><path transform="translate(1.20 1.19)" d="M1.0 6.9 L2.3 5.9 L4.0 7.7 L8.4 1.4 L9.3 2.0 L4.8 9.8 L3.4 9.8 Z" fill="#111" stroke="#111" stroke-width="0.35" stroke-linejoin="round"/></svg>
<div class="ds" style="left:584px;top:625px"></div>
<svg class="ck" style="left:689px;top:618px" width="12" height="12" viewBox="0 0 12 12"><path transform="translate(1.40 1.19)" d="M1.0 6.9 L2.3 5.9 L4.0 7.7 L8.4 1.4 L9.3 2.0 L4.8 9.8 L3.4 9.8 Z" fill="#111" stroke="#111" stroke-width="0.35" stroke-linejoin="round"/></svg>
<svg class="ck" style="left:798px;top:618px" width="12" height="12" viewBox="0 0 12 12"><path transform="translate(1.98 1.19)" d="M1.0 6.9 L2.3 5.9 L4.0 7.7 L8.4 1.4 L9.3 2.0 L4.8 9.8 L3.4 9.8 Z" fill="#111" stroke="#111" stroke-width="0.35" stroke-linejoin="round"/></svg>
<svg class="ck" style="left:253px;top:646px" width="12" height="12" viewBox="0 0 12 12"><path transform="translate(1.00 1.54)" d="M1.0 6.9 L2.3 5.9 L4.0 7.7 L8.4 1.4 L9.3 2.0 L4.8 9.8 L3.4 9.8 Z" fill="#111" stroke="#111" stroke-width="0.35" stroke-linejoin="round"/></svg>
<svg class="ck" style="left:362px;top:646px" width="12" height="12" viewBox="0 0 12 12"><path transform="translate(1.10 1.54)" d="M1.0 6.9 L2.3 5.9 L4.0 7.7 L8.4 1.4 L9.3 2.0 L4.8 9.8 L3.4 9.8 Z" fill="#111" stroke="#111" stroke-width="0.35" stroke-linejoin="round"/></svg>
<svg class="ck" style="left:471px;top:646px" width="12" height="12" viewBox="0 0 12 12"><path transform="translate(1.20 1.54)" d="M1.0 6.9 L2.3 5.9 L4.0 7.7 L8.4 1.4 L9.3 2.0 L4.8 9.8 L3.4 9.8 Z" fill="#111" stroke="#111" stroke-width="0.35" stroke-linejoin="round"/></svg>
<svg class="ck" style="left:580px;top:646px" width="12" height="12" viewBox="0 0 12 12"><path transform="translate(1.30 1.54)" d="M1.0 6.9 L2.3 5.9 L4.0 7.7 L8.4 1.4 L9.3 2.0 L4.8 9.8 L3.4 9.8 Z" fill="#111" stroke="#111" stroke-width="0.35" stroke-linejoin="round"/></svg>
<svg class="ck" style="left:689px;top:646px" width="12" height="12" viewBox="0 0 12 12"><path transform="translate(1.40 1.54)" d="M1.0 6.9 L2.3 5.9 L4.0 7.7 L8.4 1.4 L9.3 2.0 L4.8 9.8 L3.4 9.8 Z" fill="#111" stroke="#111" stroke-width="0.35" stroke-linejoin="round"/></svg>
<div class="ds" style="left:803px;top:653px"></div>
<svg class="ck" style="left:253px;top:674px" width="12" height="12" viewBox="0 0 12 12"><path transform="translate(1.00 1.89)" d="M1.0 6.9 L2.3 5.9 L4.0 7.7 L8.4 1.4 L9.3 2.0 L4.8 9.8 L3.4 9.8 Z" fill="#111" stroke="#111" stroke-width="0.35" stroke-linejoin="round"/></svg>
<svg class="ck" style="left:362px;top:674px" width="12" height="12" viewBox="0 0 12 12"><path transform="translate(1.10 1.89)" d="M1.0 6.9 L2.3 5.9 L4.0 7.7 L8.4 1.4 L9.3 2.0 L4.8 9.8 L3.4 9.8 Z" fill="#111" stroke="#111" stroke-width="0.35" stroke-linejoin="round"/></svg>
<svg class="ck" style="left:471px;top:674px" width="12" height="12" viewBox="0 0 12 12"><path transform="translate(1.20 1.89)" d="M1.0 6.9 L2.3 5.9 L4.0 7.7 L8.4 1.4 L9.3 2.0 L4.8 9.8 L3.4 9.8 Z" fill="#111" stroke="#111" stroke-width="0.35" stroke-linejoin="round"/></svg>
<div class="ds" style="left:584px;top:681px"></div>
<svg class="ck" style="left:689px;top:674px" width="12" height="12" viewBox="0 0 12 12"><path transform="translate(1.40 1.89)" d="M1.0 6.9 L2.3 5.9 L4.0 7.7 L8.4 1.4 L9.3 2.0 L4.8 9.8 L3.4 9.8 Z" fill="#111" stroke="#111" stroke-width="0.35" stroke-linejoin="round"/></svg>
<svg class="ck" style="left:798px;top:674px" width="12" height="12" viewBox="0 0 12 12"><path transform="translate(1.98 1.89)" d="M1.0 6.9 L2.3 5.9 L4.0 7.7 L8.4 1.4 L9.3 2.0 L4.8 9.8 L3.4 9.8 Z" fill="#111" stroke="#111" stroke-width="0.35" stroke-linejoin="round"/></svg>
<svg class="ck" style="left:253px;top:703px" width="12" height="12" viewBox="0 0 12 12"><path transform="translate(1.00 1.23)" d="M1.0 6.9 L2.3 5.9 L4.0 7.7 L8.4 1.4 L9.3 2.0 L4.8 9.8 L3.4 9.8 Z" fill="#111" stroke="#111" stroke-width="0.35" stroke-linejoin="round"/></svg>
<svg class="ck" style="left:362px;top:703px" width="12" height="12" viewBox="0 0 12 12"><path transform="translate(1.10 1.23)" d="M1.0 6.9 L2.3 5.9 L4.0 7.7 L8.4 1.4 L9.3 2.0 L4.8 9.8 L3.4 9.8 Z" fill="#111" stroke="#111" stroke-width="0.35" stroke-linejoin="round"/></svg>
<svg class="ck" style="left:471px;top:703px" width="12" height="12" viewBox="0 0 12 12"><path transform="translate(1.20 1.23)" d="M1.0 6.9 L2.3 5.9 L4.0 7.7 L8.4 1.4 L9.3 2.0 L4.8 9.8 L3.4 9.8 Z" fill="#111" stroke="#111" stroke-width="0.35" stroke-linejoin="round"/></svg>
<div class="ds" style="left:584px;top:710px"></div>
<svg class="ck" style="left:689px;top:703px" width="12" height="12" viewBox="0 0 12 12"><path transform="translate(1.40 1.23)" d="M1.0 6.9 L2.3 5.9 L4.0 7.7 L8.4 1.4 L9.3 2.0 L4.8 9.8 L3.4 9.8 Z" fill="#111" stroke="#111" stroke-width="0.35" stroke-linejoin="round"/></svg>
<div class="ds" style="left:803px;top:710px"></div>
<svg class="ck" style="left:253px;top:731px" width="12" height="12" viewBox="0 0 12 12"><path transform="translate(1.00 1.58)" d="M1.0 6.9 L2.3 5.9 L4.0 7.7 L8.4 1.4 L9.3 2.0 L4.8 9.8 L3.4 9.8 Z" fill="#111" stroke="#111" stroke-width="0.35" stroke-linejoin="round"/></svg>
<svg class="ck" style="left:362px;top:731px" width="12" height="12" viewBox="0 0 12 12"><path transform="translate(1.10 1.58)" d="M1.0 6.9 L2.3 5.9 L4.0 7.7 L8.4 1.4 L9.3 2.0 L4.8 9.8 L3.4 9.8 Z" fill="#111" stroke="#111" stroke-width="0.35" stroke-linejoin="round"/></svg>
<svg class="ck" style="left:471px;top:731px" width="12" height="12" viewBox="0 0 12 12"><path transform="translate(1.20 1.58)" d="M1.0 6.9 L2.3 5.9 L4.0 7.7 L8.4 1.4 L9.3 2.0 L4.8 9.8 L3.4 9.8 Z" fill="#111" stroke="#111" stroke-width="0.35" stroke-linejoin="round"/></svg>
<svg class="ck" style="left:580px;top:731px" width="12" height="12" viewBox="0 0 12 12"><path transform="translate(1.30 1.58)" d="M1.0 6.9 L2.3 5.9 L4.0 7.7 L8.4 1.4 L9.3 2.0 L4.8 9.8 L3.4 9.8 Z" fill="#111" stroke="#111" stroke-width="0.35" stroke-linejoin="round"/></svg>
<svg class="ck" style="left:689px;top:731px" width="12" height="12" viewBox="0 0 12 12"><path transform="translate(1.40 1.58)" d="M1.0 6.9 L2.3 5.9 L4.0 7.7 L8.4 1.4 L9.3 2.0 L4.8 9.8 L3.4 9.8 Z" fill="#111" stroke="#111" stroke-width="0.35" stroke-linejoin="round"/></svg>
<svg class="ck" style="left:798px;top:731px" width="12" height="12" viewBox="0 0 12 12"><path transform="translate(1.98 1.58)" d="M1.0 6.9 L2.3 5.9 L4.0 7.7 L8.4 1.4 L9.3 2.0 L4.8 9.8 L3.4 9.8 Z" fill="#111" stroke="#111" stroke-width="0.35" stroke-linejoin="round"/></svg>
<div class="ds" style="left:257px;top:766px"></div>
<svg class="ck" style="left:362px;top:759px" width="12" height="12" viewBox="0 0 12 12"><path transform="translate(1.10 1.93)" d="M1.0 6.9 L2.3 5.9 L4.0 7.7 L8.4 1.4 L9.3 2.0 L4.8 9.8 L3.4 9.8 Z" fill="#111" stroke="#111" stroke-width="0.35" stroke-linejoin="round"/></svg>
<div class="ds" style="left:475px;top:766px"></div>
<div class="ds" style="left:584px;top:766px"></div>
<div class="ds" style="left:693px;top:766px"></div>
<svg class="ck" style="left:798px;top:759px" width="12" height="12" viewBox="0 0 12 12"><path transform="translate(1.98 1.93)" d="M1.0 6.9 L2.3 5.9 L4.0 7.7 L8.4 1.4 L9.3 2.0 L4.8 9.8 L3.4 9.8 Z" fill="#111" stroke="#111" stroke-width="0.35" stroke-linejoin="round"/></svg>
<div class="ds" style="left:257px;top:802px"></div>
<div class="ds" style="left:366px;top:802px"></div>
<svg class="ck" style="left:471px;top:795px" width="12" height="12" viewBox="0 0 12 12"><path transform="translate(1.20 1.33)" d="M1.0 6.9 L2.3 5.9 L4.0 7.7 L8.4 1.4 L9.3 2.0 L4.8 9.8 L3.4 9.8 Z" fill="#111" stroke="#111" stroke-width="0.35" stroke-linejoin="round"/></svg>
<svg class="ck" style="left:580px;top:795px" width="12" height="12" viewBox="0 0 12 12"><path transform="translate(1.30 1.33)" d="M1.0 6.9 L2.3 5.9 L4.0 7.7 L8.4 1.4 L9.3 2.0 L4.8 9.8 L3.4 9.8 Z" fill="#111" stroke="#111" stroke-width="0.35" stroke-linejoin="round"/></svg>
<svg class="ck" style="left:689px;top:795px" width="12" height="12" viewBox="0 0 12 12"><path transform="translate(1.40 1.33)" d="M1.0 6.9 L2.3 5.9 L4.0 7.7 L8.4 1.4 L9.3 2.0 L4.8 9.8 L3.4 9.8 Z" fill="#111" stroke="#111" stroke-width="0.35" stroke-linejoin="round"/></svg>
<div class="ds" style="left:803px;top:802px"></div>
<div style='position:absolute;left:858px;top:661px;width:40px;height:40px;border-radius:50%;background:#f8f8f8;border:1px solid #dedede;box-sizing:border-box'></div><div style='position:absolute;left:858px;top:719.5px;width:40px;height:40px;border-radius:50%;background:#d8d8d8'></div><div style='position:absolute;left:858px;top:767px;width:40px;height:40px;border-radius:50%;background:#f8f8f8;border:1px solid #dedede;box-sizing:border-box'></div>
</body></html>
